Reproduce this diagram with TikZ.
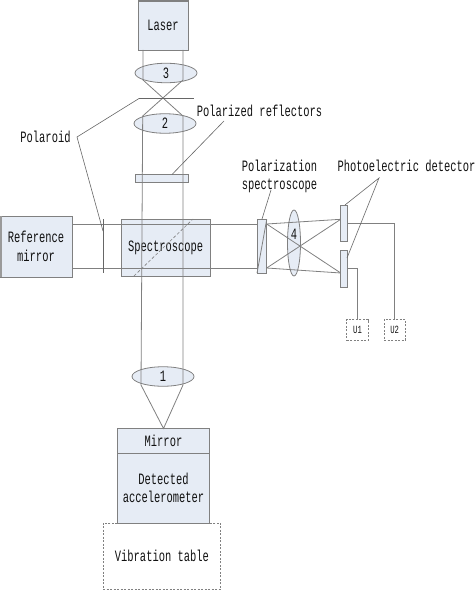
\documentclass[tikz,border=0pt]{standalone}
\usepackage{fontspec}
\setmainfont[FakeStretch=0.66]{Liberation Mono}
\usepackage{xcolor}
\definecolor{boxblue}{HTML}{E6ECF5}
\definecolor{linegray}{HTML}{808080}
\definecolor{textgray}{HTML}{111111}
\usetikzlibrary{calc}
\tikzset{
	optbox/.style={draw=linegray,fill=boxblue,line width=.8pt,inner sep=0pt,outer sep=0pt,align=center,text=textgray},
	lens/.style={ellipse,draw=linegray,fill=boxblue,line width=.8pt,inner sep=0pt,outer sep=0pt,text=textgray},
	dashbox/.style={draw=linegray,dash pattern=on 2pt off 1.5pt,line width=.8pt,inner sep=0pt,outer sep=0pt,align=center,text=textgray},
	beam/.style={draw=linegray,line width=.8pt},
	thinline/.style={draw=linegray!80!black,line width=.6pt},
	lbl/.style={inner sep=0pt,align=center,text=textgray}
}
\usetikzlibrary{shapes.geometric}
\begin{document}
\begin{tikzpicture}[x=1pt,y=-1pt,font=\fontsize{15.8}{18.6}\selectfont]
	\useasboundingbox (0,0) rectangle (474,591);

	% boxes
	\node[optbox,minimum width=50pt,minimum height=50pt] (laser) at (163,25) {Laser};
	\node[optbox,minimum width=72pt,minimum height=61pt] (refmirror) at (36,246.5) {Reference\\mirror};
	\node[optbox,minimum width=88.5pt,minimum height=57pt] (spectro) at (165.7,247.5) {Spectroscope};
	\node[optbox,minimum width=53pt,minimum height=7.5pt] (reflector) at (161.5,178.3) {};
	\node[optbox,minimum width=92pt,minimum height=24.5pt] (mirror) at (163.5,440.8) {Mirror};
	\node[optbox,minimum width=92pt,minimum height=70pt] (accel) at (163.5,488) {Detected\\accelerometer};
	\node[dashbox,minimum width=117.7pt,minimum height=66pt] (table) at (161.9,556) {Vibration table};
	\node[optbox,minimum width=9.7pt,minimum height=53.7pt] (polspec) at (261.9,246.2) {};
	\node[optbox,minimum width=6.6pt,minimum height=36pt] (detup) at (344,223) {};
	\node[optbox,minimum width=6.6pt,minimum height=37pt] (detdown) at (344,268.5) {};
	\node[dashbox,minimum width=21.6pt,minimum height=20.5pt] (uone) at (357.5,329.8) {\fontsize{11}{11}\selectfont U1};
	\node[dashbox,minimum width=21.3pt,minimum height=20.5pt] (utwo) at (394.7,329.8) {\fontsize{11}{11}\selectfont U2};

	\fill[linegray] (laser.north west) rectangle ($(laser.north east)+(0,2)$);
	\fill[linegray!80] (refmirror.north west) rectangle ($(refmirror.south west)+(2,0)$);

	% lenses
	\foreach \name/\num/\x/\y in {lensthree/3/166/73,lenstwo/2/165/123.5,lensone/1/163/376.5}{
		\node[lens,minimum width=62pt,minimum height=19.5pt] (\name) at (\x,\y) {\num};
	}
	\node[lens,minimum width=13pt,minimum height=66pt] (lensfour) at (294,243) {};

	% points on the beams
	\coordinate (crossing) at (163,98.5);
	\coordinate (lasl) at (143,50);
	\coordinate (lasr) at (183,50);
	\coordinate (upl) at (143,80);
	\coordinate (upr) at (183,80);
	\coordinate (midl) at (142.7,116);
	\coordinate (midr) at (183,116);
	\coordinate (lowl) at (141,385);
	\coordinate (lowr) at (183,385);
	\coordinate (focus) at (163.5,428.5);
	\coordinate (refup) at (72,224);
	\coordinate (refdown) at (72,268);
	\coordinate (psinup) at (257,224);
	\coordinate (psindown) at (257,268);
	\coordinate (psoutup) at (266.7,224);
	\coordinate (psoutdown) at (266.7,268);
	\coordinate (hitupone) at (340.7,219.3);
	\coordinate (hitdownone) at (340.7,273);
	\coordinate (outup) at (347.3,223);
	\coordinate (outdown) at (347.3,268);

	% beams
	\draw[beam] (lasl) -- (upl) -- (midr) -- (lowr |- midr);
	\draw[beam] (lasr) -- (upr) -- (midl);
	\draw[beam] (midl) -- (lowl) -- (focus) -- (lowr) -- (midr);
	\draw[beam] (refup) -- (psinup);
	\draw[beam] (refdown) -- (psindown);
	\draw[dash pattern=on 3pt off 2pt,draw=linegray,line width=.6pt] (spectro.south west) ++(12.5,0) -- (193,219);
	\draw[beam] (polspec.north east) -- (polspec.south west);
	\foreach \a in {psoutup,psoutdown}{
		\foreach \b in {hitupone,hitdownone}{
			\draw[beam] (\a) -- (\b);
		}
	}
	\draw[beam] (outup) -| (utwo.north);
	\draw[beam] (outdown) -| (uone.north);

	% polaroids
	\coordinate (poltopl) at (139,98.5);
	\coordinate (poltopr) at (194,98.5);
	\coordinate (polleftt) at (103.5,219);
	\coordinate (polleftb) at (103.5,273);
	\draw[thinline] (poltopl) -- (poltopr);
	\draw[thinline] (polleftt) -- (polleftb);

	% labels and leaders
	\node[lbl] (numfour) at (294,234) {4};
	\node[lbl] (polaroid) at (45.5,136.5) {Polaroid};
	\node[lbl] (reflabel) at (259.5,111) {Polarized reflectors};
	\node[lbl] (pollabel) at (279.5,176.5) {Polarization\\spectroscope};
	\node[lbl] (detlabel) at (406.5,166) {Photoelectric detector};

	\coordinate (polknee) at (77,137);
	\coordinate (polhit) at (103,231);
	\coordinate (refknee) at (224,121);
	\coordinate (refhit) at (172,174.5);
	\coordinate (specknee) at (271,190);
	\coordinate (dethead) at (379,178);
	\coordinate (dethit) at (345,205);
	\coordinate (dethitb) at (347,258);
	\draw[thinline] (poltopl) -- (polknee) -- (polhit);
	\draw[thinline] (refknee) -- (refhit);
	\draw[thinline] (specknee) -- (polspec.north);
	\draw[thinline] (dethit) -- (dethead) -- (dethitb);
\end{tikzpicture}
\end{document}
